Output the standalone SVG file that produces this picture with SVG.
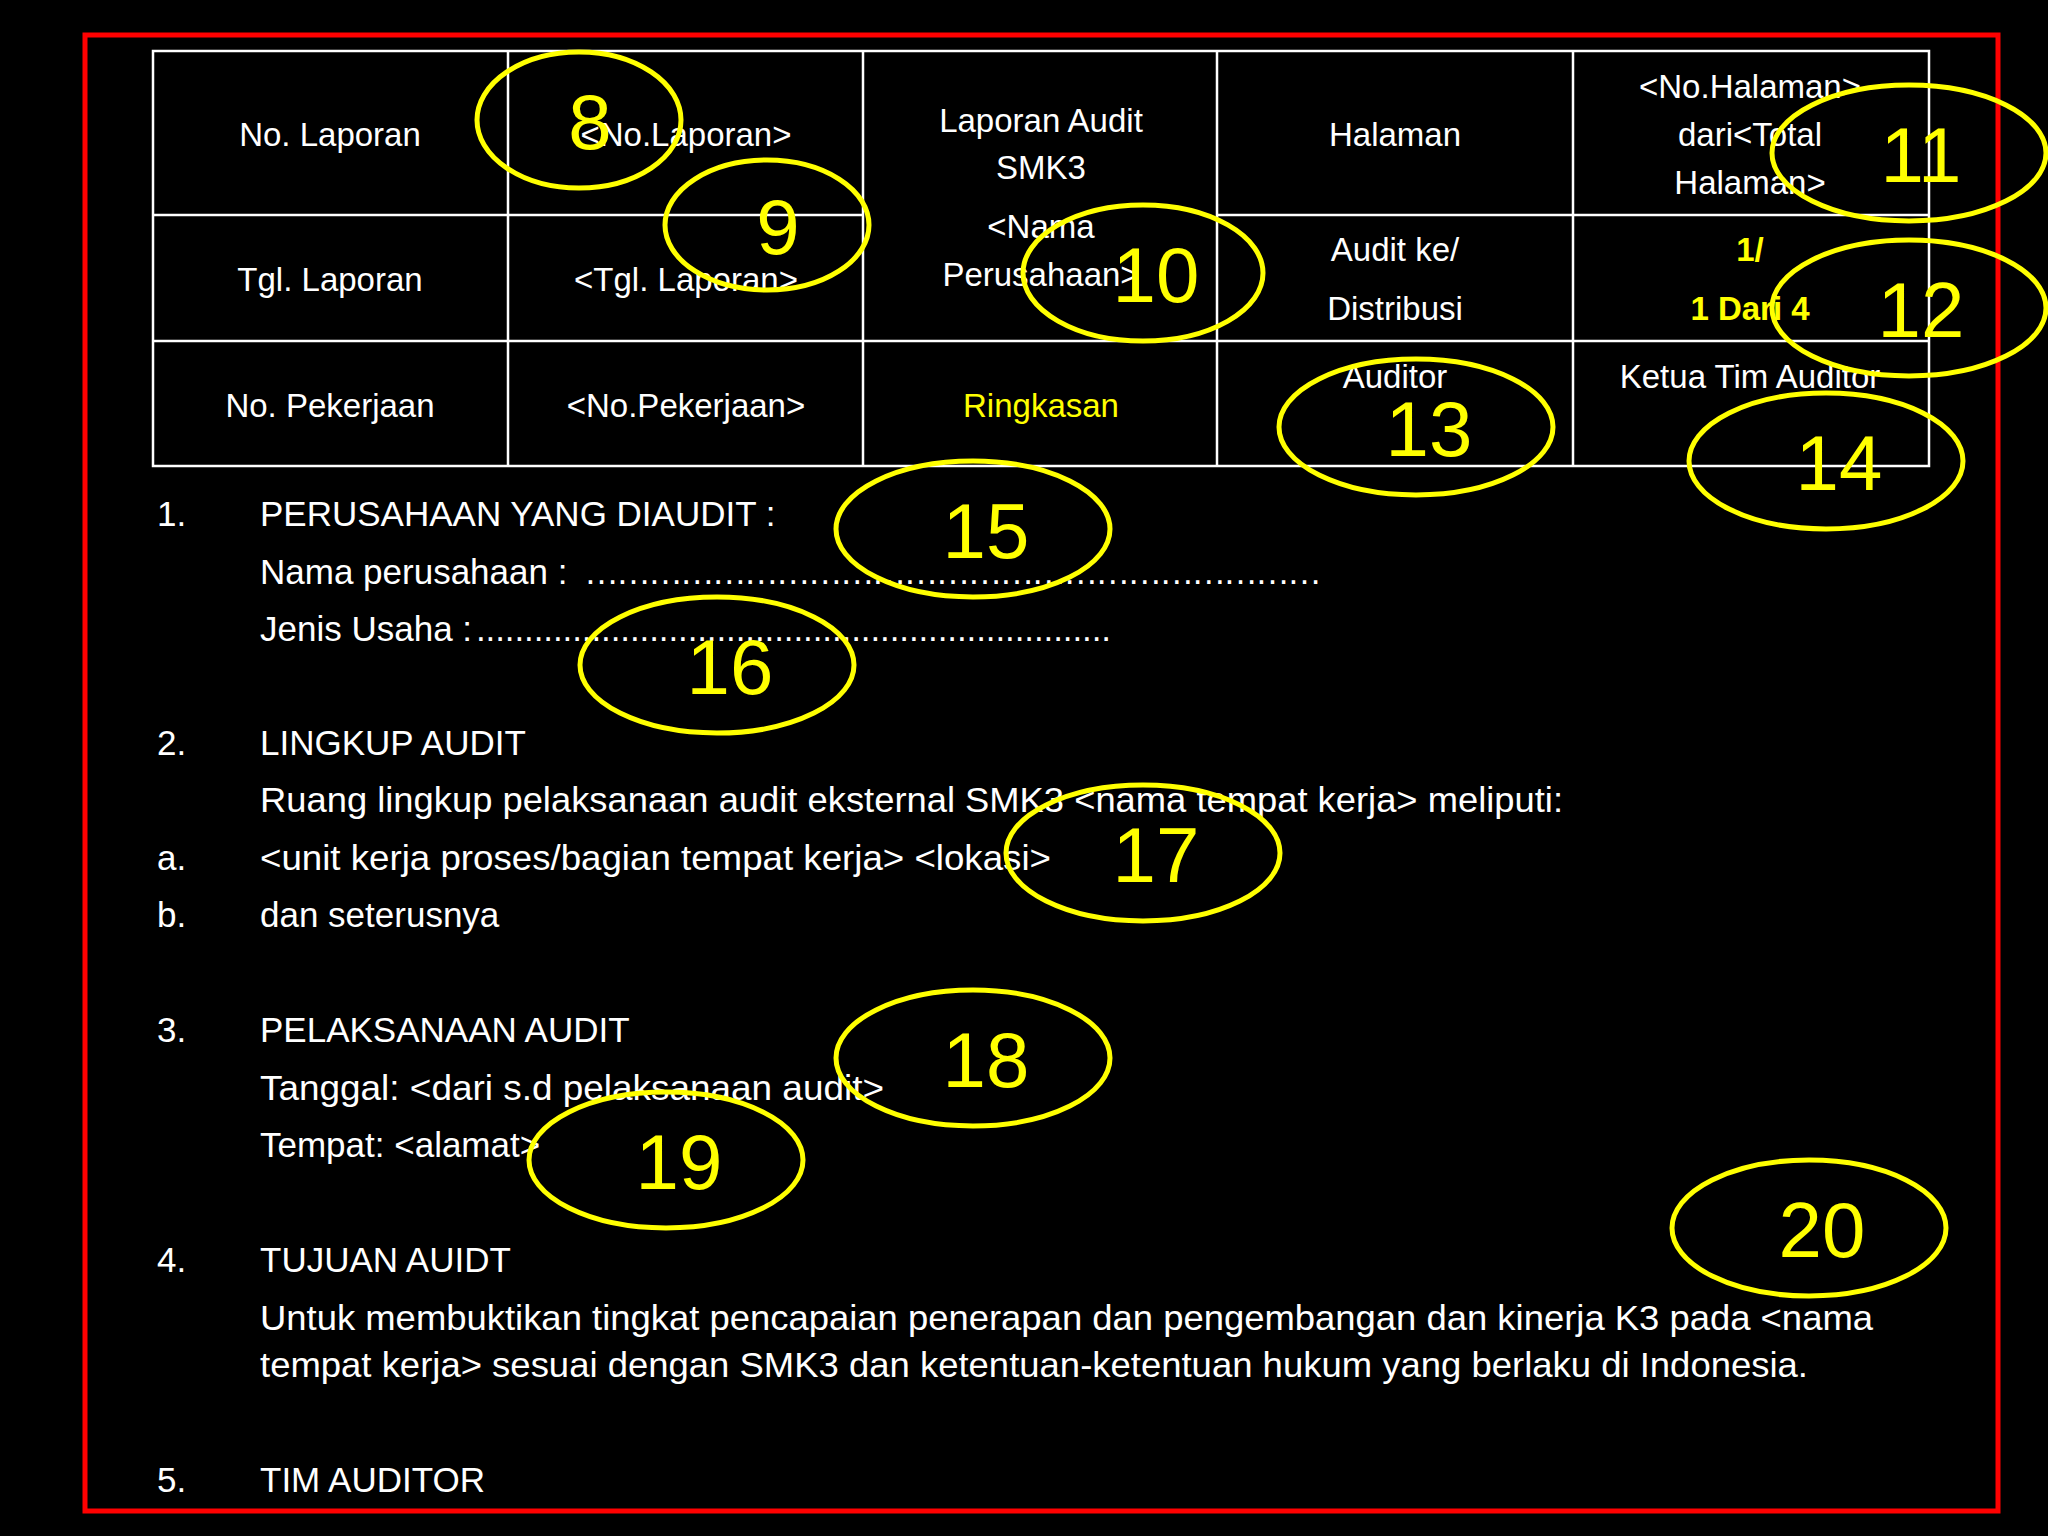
<svg xmlns="http://www.w3.org/2000/svg" width="2048" height="1536" viewBox="0 0 2048 1536">
<style>
text{font-family:"Liberation Sans","Open Sans",sans-serif;fill:#fff;dominant-baseline:central}
.t{font-size:33px;text-anchor:middle}
.y{fill:#ffff00}
.b{font-weight:bold}
.p{font-size:35px}
.n{font-size:78px;fill:#ffff00;text-anchor:middle}
ellipse{fill:none;stroke:#ffff00;stroke-width:5}
.g line{stroke:#fff;stroke-width:2.5}
</style>
<rect width="2048" height="1536" fill="#000"/>
<rect x="85" y="35" width="1913" height="1476" fill="none" stroke="#ff0000" stroke-width="5"/>
<g id="table" class="g">
<rect x="153" y="51" width="1776" height="415" fill="none" stroke="#fff" stroke-width="2.5"/>
<line x1="508" y1="51" x2="508" y2="466"/><line x1="863" y1="51" x2="863" y2="466"/>
<line x1="1217" y1="51" x2="1217" y2="466"/><line x1="1573" y1="51" x2="1573" y2="466"/>
<line x1="153" y1="215" x2="863" y2="215"/><line x1="1217" y1="215" x2="1929" y2="215"/>
<line x1="153" y1="341" x2="1929" y2="341"/>
<text class="t" x="330" y="134">No. Laporan</text>
<text class="t" x="686" y="134">&lt;No.Laporan&gt;</text>
<text class="t" x="1041" y="120">Laporan Audit</text>
<text class="t" x="1041" y="167">SMK3</text>
<text class="t" x="1395" y="134">Halaman</text>
<text class="t" x="1750" y="86">&lt;No.Halaman&gt;</text>
<text class="t" x="1750" y="134">dari&lt;Total</text>
<text class="t" x="1750" y="182">Halaman&gt;</text>
<text class="t" x="330" y="279">Tgl. Laporan</text>
<text class="t" x="686" y="279">&lt;Tgl. Laporan&gt;</text>
<text class="t" x="1041" y="226">&lt;Nama</text>
<text class="t" x="1041" y="274">Perusahaan&gt;</text>
<text class="t" x="1395" y="249">Audit ke/</text>
<text class="t" x="1395" y="308">Distribusi</text>
<text class="t y b" x="1750" y="249">1/</text>
<text class="t y b" x="1750" y="308">1 Dari 4</text>
<text class="t" x="330" y="405">No. Pekerjaan</text>
<text class="t" x="686" y="405">&lt;No.Pekerjaan&gt;</text>
<text class="t y" x="1041" y="405">Ringkasan</text>
<text class="t" x="1395" y="376">Auditor</text>
<text class="t" x="1750" y="376">Ketua Tim Auditor</text>
</g>
<g id="body">
<text class="p" x="157" y="513">1.</text><text class="p" x="260" y="513">PERUSAHAAN YANG DIAUDIT :</text>
<text class="p" x="260" y="571">Nama perusahaan : <tspan x="584" textLength="738" lengthAdjust="spacing">……………………………………………………………</tspan></text>
<text class="p" x="260" y="628">Jenis Usaha : <tspan x="476" textLength="635" lengthAdjust="spacing">..................................................................</tspan></text>
<text class="p" x="157" y="742">2.</text><text class="p" x="260" y="742">LINGKUP AUDIT</text>
<text class="p" x="260" y="799" textLength="1303" lengthAdjust="spacingAndGlyphs">Ruang lingkup pelaksanaan audit eksternal SMK3 &lt;nama tempat kerja&gt; meliputi:</text>
<text class="p" x="157" y="857">a.</text><text class="p" x="260" y="857" textLength="791" lengthAdjust="spacingAndGlyphs">&lt;unit kerja proses/bagian tempat kerja&gt; &lt;lokasi&gt;</text>
<text class="p" x="157" y="914">b.</text><text class="p" x="260" y="914">dan seterusnya</text>
<text class="p" x="157" y="1029">3.</text><text class="p" x="260" y="1029">PELAKSANAAN AUDIT</text>
<text class="p" x="260" y="1087" textLength="624" lengthAdjust="spacingAndGlyphs">Tanggal: &lt;dari  s.d  pelaksanaan audit&gt;</text>
<text class="p" x="260" y="1144">Tempat: &lt;alamat&gt;</text>
<text class="p" x="157" y="1259">4.</text><text class="p" x="260" y="1259">TUJUAN AUIDT</text>
<text class="p" x="260" y="1317" textLength="1613" lengthAdjust="spacingAndGlyphs">Untuk membuktikan tingkat pencapaian penerapan dan pengembangan dan kinerja K3 pada &lt;nama</text>
<text class="p" x="260" y="1364" textLength="1548" lengthAdjust="spacingAndGlyphs">tempat kerja&gt; sesuai dengan SMK3 dan ketentuan-ketentuan hukum yang berlaku di Indonesia.</text>
<text class="p" x="157" y="1479">5.</text><text class="p" x="260" y="1479">TIM AUDITOR</text>
</g>
<g id="markers">
<ellipse cx="579" cy="120" rx="102" ry="68"/><text class="n" x="590" y="122">8</text>
<ellipse cx="767" cy="225" rx="102" ry="65"/><text class="n" x="778" y="227">9</text>
<ellipse cx="1143" cy="273" rx="120" ry="68"/><text class="n" x="1156" y="275">10</text>
<ellipse cx="1909" cy="153" rx="137" ry="68"/><text class="n" x="1921" y="155">11</text>
<ellipse cx="1909" cy="308" rx="137" ry="68"/><text class="n" x="1921" y="310">12</text>
<ellipse cx="1416" cy="427" rx="137" ry="68"/><text class="n" x="1429" y="429">13</text>
<ellipse cx="1826" cy="461" rx="137" ry="68"/><text class="n" x="1839" y="463">14</text>
<ellipse cx="973" cy="529" rx="137" ry="68"/><text class="n" x="986" y="531">15</text>
<ellipse cx="717" cy="665" rx="137" ry="68"/><text class="n" x="730" y="667">16</text>
<ellipse cx="1143" cy="853" rx="137" ry="68"/><text class="n" x="1156" y="855">17</text>
<ellipse cx="973" cy="1058" rx="137" ry="68"/><text class="n" x="986" y="1060">18</text>
<ellipse cx="666" cy="1160" rx="137" ry="68"/><text class="n" x="679" y="1162">19</text>
<ellipse cx="1809" cy="1228" rx="137" ry="68"/><text class="n" x="1822" y="1230">20</text>
</g>
</svg>
